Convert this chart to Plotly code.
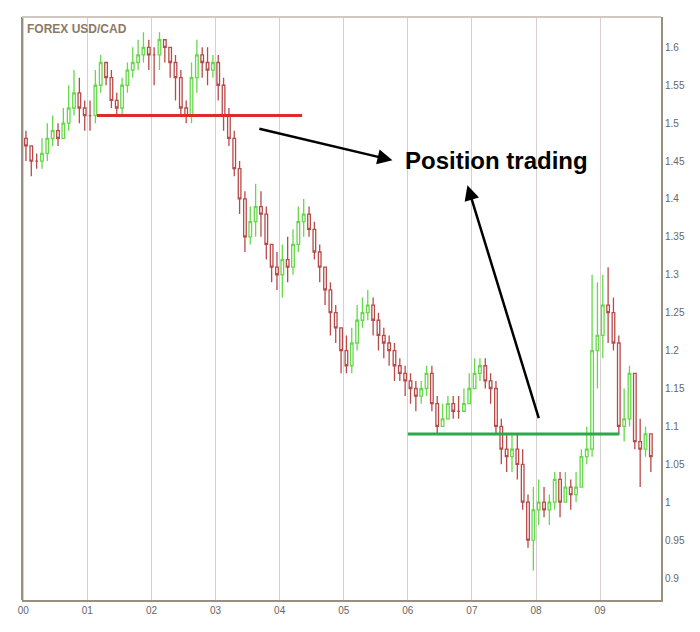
import plotly.graph_objects as go

years = [2000, 2001, 2002, 2003, 2004, 2005, 2006, 2007, 2008, 2009]
closes = [
    1.47, 1.45, 1.45, 1.46, 1.48, 1.49, 1.48, 1.50, 1.52, 1.54, 1.52, 1.51,
    1.51, 1.55, 1.58, 1.56, 1.53, 1.52, 1.55, 1.57, 1.58, 1.59, 1.60, 1.59,
    1.59, 1.61, 1.60, 1.58, 1.56, 1.52, 1.51, 1.56, 1.59, 1.58, 1.57, 1.58,
    1.55, 1.51, 1.48, 1.44, 1.40, 1.35, 1.37, 1.39, 1.38, 1.34, 1.31, 1.30,
    1.32, 1.31, 1.34, 1.37, 1.38, 1.36, 1.33, 1.31, 1.28, 1.25, 1.23, 1.20,
    1.18, 1.21, 1.24, 1.25, 1.26, 1.24, 1.22, 1.21, 1.20, 1.18, 1.17, 1.16,
    1.15, 1.14, 1.15, 1.17, 1.13, 1.10, 1.11, 1.13, 1.12, 1.12, 1.13, 1.15,
    1.17, 1.18, 1.16, 1.15, 1.10, 1.07, 1.06, 1.07, 1.05, 1.00, 0.95, 0.99,
    1.00, 0.99, 1.00, 1.03, 1.00, 1.02, 1.01, 1.02, 1.06, 1.07, 1.20, 1.22,
    1.26, 1.25, 1.21, 1.10, 1.11, 1.17, 1.08, 1.07, 1.09, 1.06,
]
opens = [1.48] + closes[:-1]
highs = [
    1.49, 1.47, 1.46, 1.48, 1.50, 1.51, 1.50, 1.52, 1.55, 1.57, 1.56, 1.53,
    1.53, 1.57, 1.59, 1.58, 1.57, 1.54, 1.56, 1.58, 1.60, 1.61, 1.62, 1.61,
    1.60, 1.62, 1.61, 1.60, 1.59, 1.57, 1.53, 1.58, 1.61, 1.60, 1.60, 1.59,
    1.59, 1.56, 1.52, 1.49, 1.45, 1.41, 1.39, 1.42, 1.41, 1.39, 1.34, 1.33,
    1.34, 1.35, 1.36, 1.39, 1.40, 1.39, 1.37, 1.34, 1.31, 1.29, 1.26, 1.23,
    1.22, 1.23, 1.26, 1.27, 1.28, 1.27, 1.25, 1.23, 1.22, 1.21, 1.19, 1.18,
    1.17, 1.16, 1.16, 1.18, 1.18, 1.14, 1.13, 1.14, 1.14, 1.14, 1.15, 1.17,
    1.19, 1.19, 1.19, 1.17, 1.16, 1.11, 1.09, 1.09, 1.09, 1.07, 1.01, 1.02,
    1.03, 1.02, 1.01, 1.04, 1.04, 1.04, 1.03, 1.04, 1.07, 1.10, 1.30, 1.29,
    1.30, 1.31, 1.27, 1.22, 1.15, 1.18, 1.17, 1.11, 1.10, 1.09,
]
lows = [
    1.45, 1.43, 1.44, 1.44, 1.45, 1.47, 1.47, 1.48, 1.49, 1.51, 1.50, 1.49,
    1.49, 1.50, 1.54, 1.55, 1.52, 1.51, 1.51, 1.54, 1.56, 1.57, 1.58, 1.57,
    1.55, 1.57, 1.58, 1.56, 1.53, 1.51, 1.50, 1.50, 1.54, 1.56, 1.55, 1.56,
    1.53, 1.49, 1.47, 1.43, 1.38, 1.33, 1.34, 1.35, 1.35, 1.32, 1.29, 1.28,
    1.27, 1.29, 1.30, 1.33, 1.35, 1.35, 1.32, 1.29, 1.26, 1.22, 1.21, 1.17,
    1.17, 1.17, 1.20, 1.23, 1.24, 1.22, 1.20, 1.19, 1.18, 1.16, 1.16, 1.14,
    1.13, 1.12, 1.13, 1.14, 1.12, 1.09, 1.10, 1.11, 1.11, 1.11, 1.12, 1.13,
    1.15, 1.16, 1.15, 1.13, 1.09, 1.05, 1.04, 1.04, 1.03, 0.99, 0.94, 0.91,
    0.97, 0.98, 0.97, 0.99, 0.98, 1.00, 0.99, 1.00, 1.02, 1.05, 1.06, 1.15,
    1.19, 1.21, 1.20, 1.09, 1.08, 1.10, 1.07, 1.02, 1.06, 1.04,
]
dates = [years[i // 12] + (i % 12 + 0.5) / 12 for i in range(len(closes))]
year_labels = ["00", "01", "02", "03", "04", "05", "06", "07", "08", "09"]

support_red = 1.51
support_green = 1.09

fig = go.Figure()
fig.add_trace(go.Candlestick(
    x=dates, open=opens, high=highs, low=lows, close=closes,
    increasing=dict(line=dict(color="#66d94a", width=1.3), fillcolor="rgba(255,255,255,1)"),
    decreasing=dict(line=dict(color="#b84a4a", width=1.3), fillcolor="rgba(255,255,255,1)"),
    whiskerwidth=0, showlegend=False,
))
fig.add_trace(go.Scatter(x=[2001.15, 2004.35], y=[support_red, support_red], mode="lines",
                         line=dict(color="#dd2a2a", width=3), showlegend=False))
fig.add_trace(go.Scatter(x=[2006.0, 2009.3], y=[support_green, support_green], mode="lines",
                         line=dict(color="#2ca84a", width=3), showlegend=False))

for (x0, y0, x1, y1) in [(2003.66, 1.493, 2005.76, 1.451), (2008.05, 1.109, 2006.93, 1.418)]:
    fig.add_annotation(x=x1, y=y1, ax=x0, ay=y0, xref="x", yref="y", axref="x", ayref="y",
                       showarrow=True, arrowhead=2, arrowsize=1.2, arrowwidth=2.5,
                       arrowcolor="black", text="")
fig.add_annotation(x=2007.38, y=1.451, text="<b>Position trading</b>", showarrow=False,
                   font=dict(family="Liberation Sans, Arial", size=24, color="black"))
fig.add_annotation(x=0.005, y=0.995, xref="paper", yref="paper", xanchor="left", yanchor="top",
                   text="<b>FOREX USD/CAD</b>", showarrow=False,
                   font=dict(family="Liberation Sans, Arial", size=12, color="#8a7a66"))

fig.update_layout(
    width=700, height=632, margin=dict(l=14, r=47, t=9, b=40),
    paper_bgcolor="white", plot_bgcolor="white",
    font=dict(family="Liberation Sans, Arial", size=10, color="#666"),
    xaxis=dict(range=[1999.98, 2009.95], tickvals=years, ticktext=year_labels, automargin=False,
               showgrid=True, gridcolor="#d8d0d0", gridwidth=1, rangeslider=dict(visible=False),
               showline=True, linecolor="#9a8e80", linewidth=2, mirror=False, ticks="", zeroline=False),
    yaxis=dict(range=[0.871, 1.64], side="right", dtick=0.05, showgrid=False, automargin=False,
               showline=True, linecolor="#9a8e80", linewidth=2, ticks="", zeroline=False,
               tickformat="~g"),
    shapes=[dict(type="line", xref="paper", yref="paper", x0=0, x1=0, y0=0, y1=1,
                 line=dict(color="#9a8e80", width=2)),
            dict(type="line", xref="paper", yref="paper", x0=0, x1=1, y0=1, y1=1,
                 line=dict(color="#d0c8c0", width=2))],
)
fig.write_html("out.html")
